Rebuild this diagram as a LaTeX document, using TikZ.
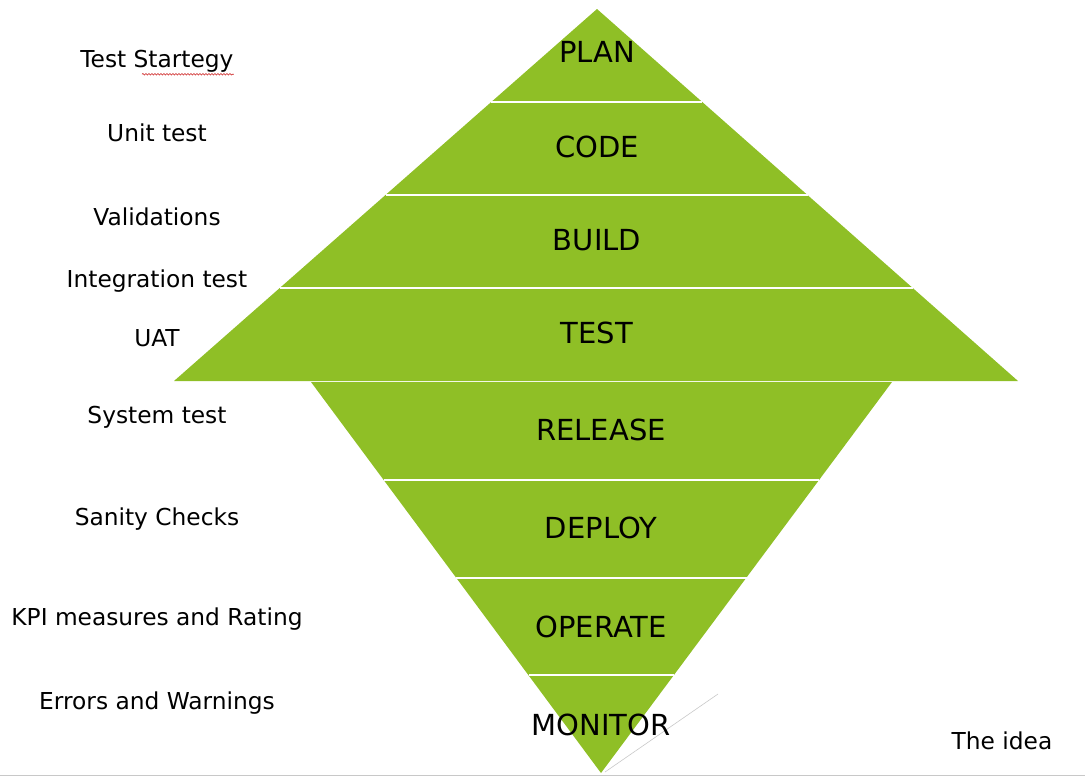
\documentclass[tikz,border=0pt]{standalone}
\usepackage{fontspec}
\setmainfont{DejaVu Sans}
\usepackage{xcolor}
\usepackage{tikz}
\usetikzlibrary{calc,decorations.pathmorphing}
\definecolor{leaf}{HTML}{8FBF26}
\definecolor{rulegray}{HTML}{C8C8C8}
\definecolor{spellred}{HTML}{D03030}
\tikzset{
  band/.style={fill=leaf,draw=none},
  gap/.style={draw=white,line width=2pt},
  phase/.style={font=\fontsize{29}{32}\selectfont,text=black,inner sep=0pt},
  note/.style={font=\fontsize{23.3}{26}\selectfont,text=black,inner sep=0pt},
  faint/.style={draw=rulegray,line width=1pt},
}

\begin{document}
\begin{tikzpicture}[x=1pt,y=-1pt]
  \useasboundingbox (0,0) rectangle (1085,777);
  % upper triangle and lower triangle
  \coordinate (utop) at (597,9);
  \coordinate (uleft) at (174,381);
  \coordinate (uright) at (1018,381);
  \coordinate (dleft) at (311,382);
  \coordinate (dright) at (892,382);
  \coordinate (dtip) at (601,773);
  \fill[band] (utop)--(uleft)--(uright)--cycle;
  \fill[band] (dleft)--(dright)--(dtip)--cycle;
  \foreach \f in {0.25,0.5,0.75}{
    \draw[gap] ($(utop)!\f!(uleft)$)--($(utop)!\f!(uright)$);
    \draw[gap] ($(dtip)!\f!(dleft)$)--($(dtip)!\f!(dright)$);
  }
  % stray lines
  \coordinate (pageL) at (0,775);
  \coordinate (pageR) at (1085,775);
  \coordinate (slantA) at (605,772);
  \coordinate (slantB) at (718,694);
  \draw[faint] (pageL)--(pageR);
  \draw[faint,line width=0.6pt] (slantA)--(slantB);
  % phases
  \foreach \n/\y/\t in {plan/52/PLAN,code/147/CODE,build/240/BUILD,test/333/TEST}
    \node[phase] (\n) at (597,\y) {\t};
  \foreach \n/\y/\t in {release/430/RELEASE,deploy/528/DEPLOY,operate/627/OPERATE,monitor/725/MONITOR}
    \node[phase] (\n) at (601,\y) {\t};
  % activities
  \foreach \n/\y/\t in {
    strategy/61/{Test Startegy},
    unit/133/{Unit test},
    valid/217/{Validations},
    integ/281/{Integration test},
    uat/338/{UAT},
    system/417/{System test},
    sanity/519/{Sanity Checks},
    kpi/619/{KPI measures and Rating},
    errors/703/{Errors and Warnings}
  }{
    \node[note] (\n) at (157,\y) {\t};
  }
  \draw[spellred,line width=0.6pt,decorate,
        decoration={snake,amplitude=0.8pt,segment length=3pt}]
    ([xshift=-15pt,yshift=-2pt]strategy.south)--([yshift=-2pt]strategy.south east);
  \node[note] (idea) at (1002,741) {The idea};
\end{tikzpicture}
\end{document}
